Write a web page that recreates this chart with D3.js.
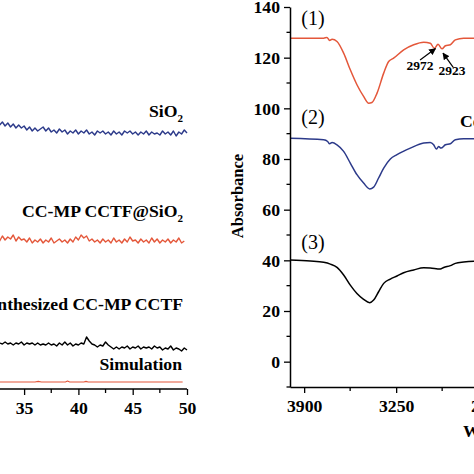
<!DOCTYPE html>
<html>
<head>
<meta charset="utf-8">
<script src="https://cdn.jsdelivr.net/npm/d3@7"></script>
<style>
  body { margin: 0; background: white; }
  text { font-family: "Liberation Serif", "DejaVu Serif", serif; }
</style>
</head>
<body>
<script>
// ---- left panel: XRD (2 theta, degrees), heights in arbitrary units ----
var xrdStart = 32.5, xrdStep = 0.25;
var sio2 = [268,264,267,263,266,262,265,261,264,261,
            263,259,262,258,261,258,260,262,258,261,
            257,259,256,260,257,259,255,258,256,259,
            255,258,256,259,255,257,254,258,256,258,
            255,257,254,258,255,257,254,258,256,258,
            255,257,254,257,255,258,254,257,255,256,
            254,258,255,257,254,258,253,257,255,259,
            256];
var cctfSio2 = [151,148,153,149,152,150,154,148,152,149,
                150,147,151,146,149,147,150,146,149,147,
                151,146,148,150,147,149,146,150,147,152,
                149,154,151,153,148,150,147,149,146,150,
                147,149,146,151,147,149,146,150,147,152,
                148,149,146,150,147,149,146,151,147,150,
                146,149,147,150,146,149,147,151,146,148];
var asSynth = [46,46,45,47,45,46,44,46,45,47,
               44,46,45,46,44,46,44,45,44,46,
               44,45,43,46,44,47,44,46,43,45,
               44,46,45,52,48,45,44,42,44,43,
               47,44,42,40,42,40,42,41,43,40,
               42,41,43,40,42,41,42,40,43,41,
               42,39,41,40,43,39,41,40,38,41,
               39];
var simulation = [[30,7],[36,7],[36.3,7.6],[36.6,7],[38.8,7],[39,8],[39.2,7],
                  [40.5,7],[40.7,7.6],[40.9,7],[49.6,7]];
var xrdTicks = [30,35,40,45,50];
var xrdMinor = [32.5,37.5,42.5,47.5];

// ---- right panel: IR, wavenumber / absorbance ----
var ir1 = [[4000,127.7],[3762,127.7],[3739,128],[3720,126.8],[3703,127.3],[3668,126.4],
           [3621,121.8],[3574,115.2],[3527,109.3],[3480,104.7],[3444,102.0],[3421,102.3],
           [3385,106.0],[3338,113.9],[3303,118.5],[3268,119.8],[3197,123.1],[3126,125.1],
           [3055,126.1],[3009,125.7],[2980,123.7],[2954,125.3],[2926,123.5],[2902,124.7],
           [2867,125.1],[2832,127.0],[2773,127.7],[2500,127.7]];
var ir2 = [[4000,88.2],[3762,87.6],[3734,86.9],[3720,86.0],[3703,86.5],[3668,85.6],
           [3621,83.0],[3574,78.4],[3527,73.8],[3480,70.5],[3437,68.2],[3409,68.9],
           [3374,72.5],[3338,76.4],[3291,80.0],[3244,81.7],[3150,84.3],[3055,86.3],
           [3009,86.5],[2985,85.6],[2966,83.9],[2950,84.9],[2933,84.3],[2902,85.6],
           [2867,86.0],[2832,87.6],[2773,88.0],[2500,88.0]];
var ir3 = [[4000,40.1],[3856,39.7],[3762,39.2],[3715,38.5],[3668,37.2],[3621,34.2],
           [3574,30.2],[3527,26.9],[3480,24.6],[3437,23.3],[3409,24.3],[3374,27.6],
           [3338,30.9],[3291,32.6],[3244,33.8],[3197,35.1],[3126,36.2],[3055,37.1],
           [3009,37.0],[2938,36.6],[2914,37.2],[2867,37.9],[2832,38.8],[2773,39.3],
           [2700,39.6],[2500,39.8]];
var irXTicks = [3900,3250,2600,1950];
var irXMinor = [3575,2925,2275];
var irYTicks = [0,20,40,60,80,100,120,140];
var irYMinor = [-10,10,30,50,70,90,110,130];
var peaks = [{label:"2972", tip:[2972,123.6], tail:[3081,119.1], text:[3081,115.1]},
             {label:"2923", tip:[2919,121.8], tail:[2848,116.3], text:[2855,113.2]}];

var red = "#e4573a", blue = "#2c3a8a";
var fs = 17.7;

var svg = d3.select("body").append("svg")
    .attr("width", 474).attr("height", 474);

svg.append("defs").append("marker")
    .attr("id", "arrow")
    .attr("viewBox", "0 0 10 10")
    .attr("refX", 9).attr("refY", 5)
    .attr("markerWidth", 7).attr("markerHeight", 7)
    .attr("markerUnits", "userSpaceOnUse")
    .attr("orient", "auto")
  .append("path")
    .attr("d", "M0,0 L10,5 L0,10 z")
    .attr("fill", "black");

function styleTicks(g) {
  g.selectAll(".tick line").attr("stroke-width", 1.3);
  g.selectAll(".tick text")
    .attr("font-family", "Liberation Serif").attr("font-weight", "bold")
    .attr("font-size", fs).attr("fill", "black");
}

// ================= left panel =================
const xL = d3.scaleLinear().domain([30, 50]).range([187 - 20 * 10.86, 187]);
const yL = d3.scaleLinear().domain([0, 389]).range([389, 0]);

const left = svg.append("g");
const lineL = d3.line().x(d => xL(d[0])).y(d => yL(d[1]));
const toPts = arr => arr.map((v, i) => [xrdStart + i * xrdStep, v]);

[[toPts(sio2), blue, 1.4], [toPts(cctfSio2), red, 1.4], [toPts(asSynth), "black", 1.4], [simulation, red, 1.1]]
  .forEach(function (s) {
    left.append("path")
      .attr("d", lineL(s[0]))
      .attr("fill", "none")
      .attr("stroke", s[1])
      .attr("stroke-width", s[2])
      .attr("stroke-linejoin", "round");
  });

const xAxisL = left.append("g").attr("transform", "translate(0,389)");
xAxisL.append("line").attr("x1", 0).attr("x2", xL(50)).attr("stroke", "black").attr("stroke-width", 1.5);
xAxisL.call(d3.axisBottom(xL).tickValues(xrdTicks).tickFormat(d3.format("d"))
      .tickSize(6).tickPadding(6).tickSizeOuter(0))
  .call(g => g.select(".domain").remove());
xAxisL.selectAll(".minor").data(xrdMinor).enter().append("line")
    .attr("class", "minor").attr("x1", d => xL(d)).attr("x2", d => xL(d))
    .attr("y1", 0).attr("y2", 4).attr("stroke", "black").attr("stroke-width", 1.3);
styleTicks(xAxisL);

function label(g, x, y, main, sub) {
  const t = g.append("text")
      .attr("x", x).attr("y", y)
      .attr("text-anchor", "end")
      .attr("font-weight", "bold")
      .attr("font-size", fs)
      .text(main);
  if (sub) {
    t.append("tspan").attr("dy", 5).attr("font-size", 11).text(sub);
  }
}
label(left, 183, 117, "SiO", "2");
label(left, 183, 217, "CC-MP CCTF@SiO", "2");
label(left, 183, 310, "As-synthesized CC-MP CCTF");
label(left, 182, 370, "Simulation");

// ================= right panel =================
const xR = d3.scaleLinear().domain([4000, 400]).range([290, 290 + 3600 * 92 / 650]);
const yR = d3.scaleLinear().domain([-10, 140]).range([387, 7]);

const right = svg.append("g");
const lineR = d3.line().x(d => xR(d[0])).y(d => yR(d[1])).curve(d3.curveMonotoneX);

[[ir1, red], [ir2, blue], [ir3, "black"]].forEach(function (s) {
  right.append("path")
    .attr("d", lineR(s[0]))
    .attr("fill", "none")
    .attr("stroke", s[1])
    .attr("stroke-width", 1.5);
});

const yAxisR = right.append("g").attr("transform", "translate(290,0)");
yAxisR.call(d3.axisLeft(yR).tickValues(irYTicks).tickFormat(d3.format("d"))
    .tickSize(6).tickPadding(4).tickSizeOuter(0));
yAxisR.select(".domain").attr("stroke-width", 1.5);
yAxisR.selectAll(".mn").data(irYMinor).enter().append("line")
    .attr("class", "mn").attr("x1", 0).attr("x2", -3.5)
    .attr("y1", d => yR(d)).attr("y2", d => yR(d))
    .attr("stroke", "black").attr("stroke-width", 1.3);
styleTicks(yAxisR);

const xAxisR = right.append("g").attr("transform", "translate(0,387)");
xAxisR.call(d3.axisBottom(xR).tickValues(irXTicks).tickFormat(d3.format("d"))
    .tickSize(6).tickPadding(6).tickSizeOuter(0));
xAxisR.select(".domain").attr("stroke-width", 1.5);
xAxisR.selectAll(".mn").data(irXMinor).enter().append("line")
    .attr("class", "mn").attr("x1", d => xR(d)).attr("x2", d => xR(d))
    .attr("y1", 0).attr("y2", 4)
    .attr("stroke", "black").attr("stroke-width", 1.3);
styleTicks(xAxisR);

right.append("text")
    .attr("x", 463).attr("y", 437)
    .attr("font-weight", "bold").attr("font-size", fs)
    .text("Wavenumber (cm");

right.append("text")
    .attr("transform", "translate(243,196) rotate(-90)")
    .attr("text-anchor", "middle")
    .attr("font-weight", "bold").attr("font-size", 16.5)
    .text("Absorbance");

[["(1)", 132.9], ["(2)", 93.8], ["(3)", 44.5]].forEach(function (d) {
  right.append("text")
    .attr("x", xR(3920)).attr("y", yR(d[1]))
    .attr("font-size", 20)
    .text(d[0]);
});

right.append("text")
    .attr("x", 460).attr("y", 127)
    .attr("font-weight", "bold").attr("font-size", fs)
    .text("Composite");

peaks.forEach(function (p) {
  right.append("line")
    .attr("x1", xR(p.tail[0])).attr("y1", yR(p.tail[1]))
    .attr("x2", xR(p.tip[0])).attr("y2", yR(p.tip[1]))
    .attr("stroke", "black").attr("stroke-width", 1.2)
    .attr("marker-end", "url(#arrow)");
  right.append("text")
    .attr("x", xR(p.text[0])).attr("y", yR(p.text[1]))
    .attr("text-anchor", "middle")
    .attr("font-weight", "bold").attr("font-size", 13.5)
    .text(p.label);
});
</script>
</body>
</html>
